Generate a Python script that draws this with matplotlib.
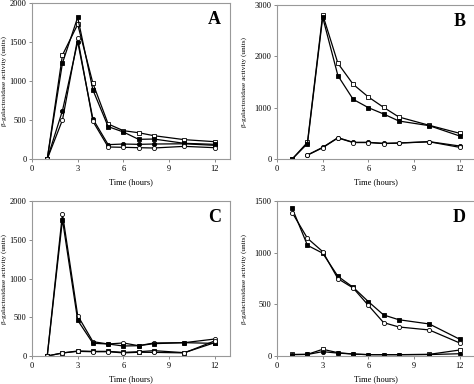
import matplotlib
matplotlib.use("Agg")
import matplotlib.pyplot as plt

plt.rcParams['font.family'] = ['Liberation Serif', 'DejaVu Serif']

t = [1, 2, 3, 4, 5, 6, 7, 8, 10, 12]
t_b_low = [2, 3, 4, 5, 6, 7, 8, 10, 12]

# panel A
a_open_sq = [0, 1333, 1726, 970, 449, 363, 337, 299, 248, 222]
a_fill_sq = [0, 1231, 1816, 885, 415, 346, 252, 256, 201, 188]
a_fill_ci = [0, 620, 1504, 513, 184, 192, 188, 192, 195, 175]
a_open_ci = [0, 500, 1547, 483, 154, 150, 145, 141, 162, 145]

# panel B
b_open_sq = [0, 325, 2812, 1864, 1455, 1208, 1006, 818, 656, 500]
b_fill_sq = [0, 300, 2760, 1623, 1162, 1000, 877, 740, 649, 448]
b_fill_ci = [78, 227, 416, 325, 325, 305, 312, 338, 253]
b_open_ci = [75, 220, 410, 320, 320, 300, 310, 335, 227]

# panel C
c_open_sq = [0, 1836, 522, 185, 155, 168, 133, 168, 172, 219]
c_fill_sq = [0, 1759, 461, 164, 155, 129, 133, 159, 172, 163]
c_fill_ci = [0, 39, 65, 60, 60, 47, 55, 69, 43, 172]
c_open_ci = [0, 39, 60, 55, 55, 40, 48, 47, 40, 195]

# panel D
d_fill_sq = [1429, 1071, 995, 771, 665, 526, 397, 351, 310, 162]
d_open_sq = [1387, 1139, 1010, 748, 658, 490, 323, 281, 252, 126]
d_open_ci = [15, 16, 65, 32, 19, 13, 13, 13, 16, 58]
d_fill_ci = [13, 15, 42, 28, 19, 13, 13, 13, 14, 22]

ylabel = "\u03b2-galactosidase activity (units)"

fig = plt.figure(figsize=(4.74, 3.84), dpi=100)

boxes = [
    [32/474, 1-159/384, 198/474, 156/384],
    [277/474, 1-159/384, 198/474, 154/384],
    [32/474, 1-356/384, 198/474, 155/384],
    [277/474, 1-356/384, 198/474, 155/384],
]
ylims = [2000, 3000, 2000, 1500]
yticks = [[0, 500, 1000, 1500, 2000], [0, 1000, 2000, 3000],
          [0, 500, 1000, 1500, 2000], [0, 500, 1000, 1500]]
ylab_x = [-0.125, -0.15, -0.125, -0.15]
letters = ["A", "B", "C", "D"]
data = [
    [(t, a_open_sq, 's', 'white'), (t, a_fill_sq, 's', 'black'),
     (t, a_fill_ci, 'o', 'black'), (t, a_open_ci, 'o', 'white')],
    [(t, b_open_sq, 's', 'white'), (t, b_fill_sq, 's', 'black'),
     (t_b_low, b_fill_ci, 'o', 'black'), (t_b_low, b_open_ci, 'o', 'white')],
    [(t, c_open_sq, 'o', 'white'), (t, c_fill_sq, 's', 'black'),
     (t, c_fill_ci, 's', 'black'), (t, c_open_ci, 'o', 'white')],
    [(t, d_fill_sq, 's', 'black'), (t, d_open_sq, 'o', 'white'),
     (t, d_open_ci, 's', 'white'), (t, d_fill_ci, 'o', 'black')],
]

for i in range(4):
    ax = fig.add_axes(boxes[i])
    for x, y, m, fc in data[i]:
        ax.plot(x, y, color='black', lw=0.9, marker=m, markersize=3,
                markerfacecolor=fc, markeredgecolor='black', markeredgewidth=0.6)
    ax.set_xlim(0, 13)
    ax.set_ylim(0, ylims[i])
    ax.set_xticks([0, 3, 6, 9, 12])
    ax.set_yticks(yticks[i])
    ax.tick_params(labelsize=6, length=2, width=0.6, pad=2, color='#777777')
    for s in ax.spines.values():
        s.set_color('#999999')
        s.set_linewidth(0.8)
    ax.set_xlabel("Time (hours)", fontsize=6, labelpad=4)
    ax.set_ylabel(ylabel, fontsize=5.2)
    ax.yaxis.set_label_coords(ylab_x[i], 0.5)
    ax.text(0.955, 0.95, letters[i], transform=ax.transAxes, ha='right', va='top',
            fontsize=13, fontweight='bold')

fig.savefig("out.png", dpi=100)
